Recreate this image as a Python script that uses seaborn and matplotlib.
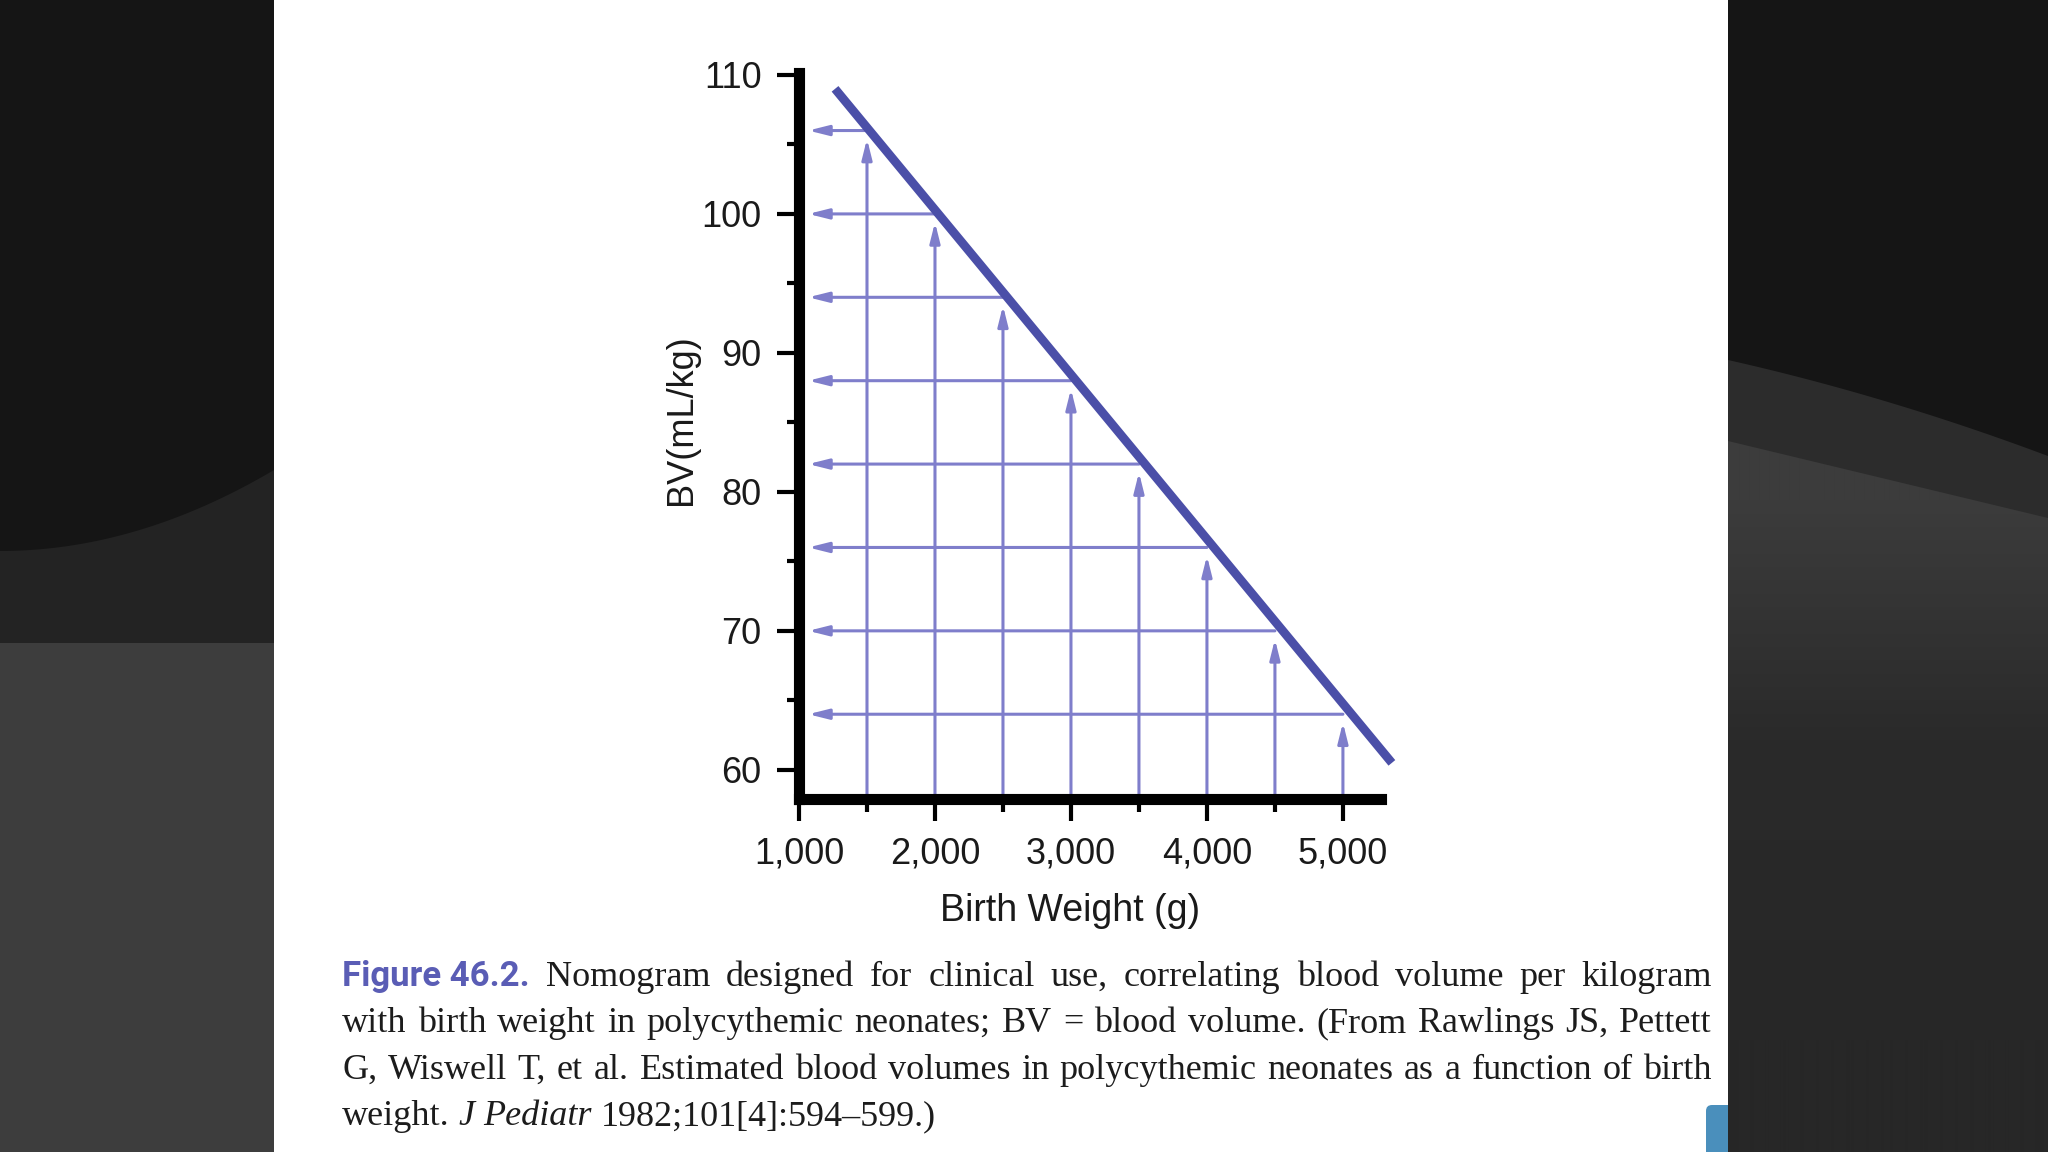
import numpy as np
import matplotlib
matplotlib.use("Agg")
import matplotlib.pyplot as plt
import seaborn as sns
from matplotlib.patches import Polygon, FancyBboxPatch, Rectangle

# ---------------- data ----------------
weights = [1500, 2000, 2500, 3000, 3500, 4000, 4500, 5000]
bv_values = [106, 100, 94, 88, 82, 76, 70, 64]
line_weight = [1265, 5360]
line_bv = [109.0, 60.5]
x_ticks = [1000, 2000, 3000, 4000, 5000]
x_tick_labels = ["1,000", "2,000", "3,000", "4,000", "5,000"]
x_minor = [1500, 2500, 3500, 4500]
y_ticks = [60, 70, 80, 90, 100, 110]
y_minor = [65, 75, 85, 95, 105]
x_label = "Birth Weight (g)"
y_label = "BV(mL/kg)"
caption_lines = [
    "Figure\u00a046.2. Nomogram designed for clinical use, correlating blood volume per kilogram",
    "with birth weight in polycythemic neonates; BV = blood volume. (From Rawlings JS, Pettett",
    "G, Wiswell T, et al. Estimated blood volumes in polycythemic neonates as a function of birth",
    "weight. J Pediatr 1982;101[4]:594\u2013599.)",
]

# ---------------- style ----------------
sns.set_theme(style="white")
plt.rcParams["font.family"] = ["Liberation Sans", "DejaVu Sans"]

MAIN = "#4b4fa8"
ARROW = "#7f7ecb"
W, H = 2048, 1152
fig = plt.figure(figsize=(W / 100, H / 100), dpi=100, facecolor="white")

# ---------------- slide background ----------------
bg = fig.add_axes([0, 0, 1, 1], zorder=-10)
bg.set_xlim(0, W)
bg.set_ylim(H, 0)
bg.axis("off")

# blue tab (under right panel)
bg.add_patch(FancyBboxPatch((1706, 1105), 34, 80, boxstyle="round,pad=0,rounding_size=6",
                            facecolor="#4a8fbc", edgecolor="none", zorder=1))

# left panel
bg.add_patch(Rectangle((0, 0), 274, H, facecolor="#3d3d3d", edgecolor="none", zorder=2))
bg.add_patch(Rectangle((0, 0), 274, 643, facecolor="#232323", edgecolor="none", zorder=3))
xs = np.linspace(0, 274, 60)
ys = 551 - 81 * (xs / 274) ** 2
poly = np.column_stack([np.r_[0, xs, 274], np.r_[0, ys, 0]])
bg.add_patch(Polygon(poly, closed=True, facecolor="#151515", edgecolor="none", zorder=4))

# right panel with vertical gradient
rows = np.arange(H)
vals = np.where(rows < 500, 0x3c,
                np.where(rows < 740, 0x3c + (0x2a - 0x3c) * (rows - 500) / 240.0,
                         0x2a + (0x27 - 0x2a) * np.clip((rows - 740) / 300.0, 0, 1)))
grad = np.repeat((vals / 255.0)[:, None, None], 3, axis=2)
bg.imshow(grad, extent=[1728, W, H, 0], aspect="auto", zorder=2, interpolation="bilinear")
xr = np.linspace(1728, W, 60)
t = (xr - 1728) / 320.0
curve1 = 360 + 96 * (0.75 * t + 0.25 * t ** 2)
curve2 = 441 + 77 * t
band = np.column_stack([np.r_[xr, xr[::-1]], np.r_[curve1 - 2, curve2[::-1]]])
bg.add_patch(Polygon(band, closed=True, facecolor="#2c2c2c", edgecolor="none", zorder=3))
top = np.column_stack([np.r_[1728, xr, W], np.r_[0, curve1, 0]])
bg.add_patch(Polygon(top, closed=True, facecolor="#151515", edgecolor="none", zorder=4))

# ---------------- chart ----------------
ax = fig.add_axes([799 / W, (H - 799) / H, 582 / W, (799 - 73) / H])
ax.set_facecolor("none")
ax.set_xlim(1000, 5280)
ax.set_ylim(57.9, 110.14)

for w, b in zip(weights, bv_values):
    ax.annotate("", xy=(w, b - 0.6), xytext=(w, 57.9),
                arrowprops=dict(arrowstyle="-|>,head_length=1.2,head_width=0.3",
                                color=ARROW, lw=2.2, shrinkA=0, shrinkB=0,
                                mutation_scale=10), zorder=3)
    ax.annotate("", xy=(1068, b), xytext=(w, b),
                arrowprops=dict(arrowstyle="-|>,head_length=1.2,head_width=0.3",
                                color=ARROW, lw=2.2, shrinkA=0, shrinkB=0,
                                mutation_scale=10), zorder=3)

sns.lineplot(x=line_weight, y=line_bv, ax=ax, color=MAIN, linewidth=6.3,
             clip_on=False, solid_capstyle="butt", zorder=5)

for side in ["top", "right"]:
    ax.spines[side].set_visible(False)
for side in ["left", "bottom"]:
    ax.spines[side].set_linewidth(8)
    ax.spines[side].set_color("black")
    ax.spines[side].set_capstyle("projecting")
    ax.spines[side].set_zorder(6)

ax.set_xticks(x_ticks)
ax.set_xticklabels(x_tick_labels)
ax.set_xticks(x_minor, minor=True)
ax.set_yticks(y_ticks)
ax.set_yticks(y_minor, minor=True)
ax.tick_params(axis="both", which="both", bottom=True, left=True, direction="out",
               color="black", width=3)
ax.tick_params(axis="both", which="major", length=16, labelsize=26, labelcolor="#1a1a1a")
ax.tick_params(axis="both", which="minor", length=9)
ax.tick_params(axis="y", which="major", pad=11)
ax.tick_params(axis="x", which="major", pad=11)

ax.set_xlabel(x_label, fontsize=27, color="#1a1a1a")
ax.set_ylabel(y_label, fontsize=26, color="#1a1a1a")
ax.xaxis.set_label_coords(0.4656, -0.129)
ax.yaxis.set_label_coords(-0.172, 0.522)
ax.grid(False)

# ---------------- caption (justified) ----------------
renderer = fig.canvas.get_renderer()
CAP = 26
serif = dict(family=["Liberation Serif", "DejaVu Serif"], fontsize=CAP, color="#1c1c1c")
x0, x1 = 342, 1712
baselines = [986, 1032, 1079, 1125]


def props_for(line_idx, word_idx, word):
    if line_idx == 0 and word_idx == 0:
        return dict(family=["Roboto", "DejaVu Sans"], fontsize=CAP - 1, fontweight="bold",
                    color="#5a5db5")
    if line_idx == 3 and word in ("J", "Pediatr"):
        p = dict(serif)
        p["style"] = "italic"
        return p
    return serif


def text_width(s, p):
    tt = fig.text(0, 0, s, **p)
    wdt = tt.get_window_extent(renderer).width
    tt.remove()
    return wdt


space_w = text_width("a a", serif) - text_width("aa", serif)

for li, line in enumerate(caption_lines):
    words = line.split(" ")
    items = []
    for wi, word in enumerate(words):
        p = props_for(li, wi, word)
        items.append((word.replace("\u00a0", " "), p, text_width(word.replace("\u00a0", " "), p)))
    total = sum(it[2] for it in items)
    if li < len(caption_lines) - 1:
        gap = (x1 - x0 - total) / (len(items) - 1)
    else:
        gap = space_w
    xpos = x0
    for word, p, wdt in items:
        fig.text(xpos / W, 1 - baselines[li] / H, word, va="baseline", ha="left", **p)
        xpos += wdt + gap

fig.savefig("out.png", dpi=100, facecolor="white")
